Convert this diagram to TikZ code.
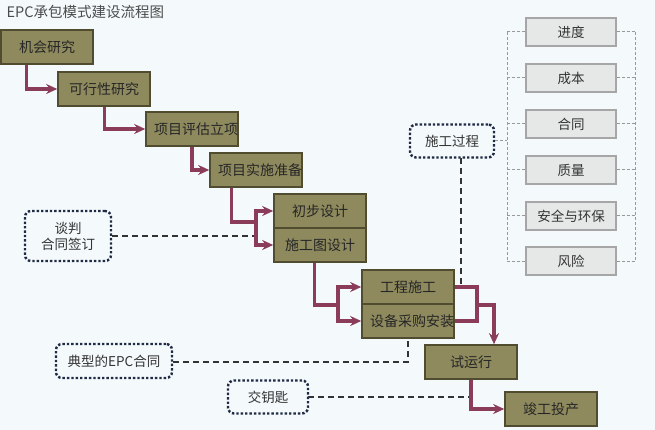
\documentclass[tikz,border=0pt]{standalone}
\usepackage{fontspec}
\newfontfamily\cjk{Noto Sans CJK SC}
\usetikzlibrary{arrows.meta}
\definecolor{olive}{HTML}{8E8A5E}
\definecolor{olivedk}{HTML}{4F4C30}
\definecolor{olivelt}{HTML}{B8B48A}
\definecolor{arr}{HTML}{8A3C58}
\definecolor{gbox}{HTML}{E6E8E8}
\definecolor{bg}{HTML}{F4F9FB}
\definecolor{dot}{HTML}{1F2A44}
\begin{document}
\begin{tikzpicture}[x=1pt,y=-1pt,
  ob/.style={draw=olivedk,line width=1.6pt,fill=olive,minimum width=92pt,minimum height=34pt,inner sep=1pt,align=center,text width=76pt,font=\cjk\fontsize{14}{15}\selectfont,text=black!85,
    append after command={[draw=olivelt,line width=1pt] (\tikzlastnode.north west) ++(2,2) -- ([xshift=-2pt,yshift=-2pt]\tikzlastnode.north east)}},
  gb/.style={draw=gray!70,line width=1.2pt,fill=gbox,minimum width=90pt,minimum height=28pt,font=\cjk\fontsize{13.5}{14}\selectfont,text=black!80},
  nb/.style={draw=dot,line width=2.4pt,dotted,rounded corners=6pt,fill=bg,align=center,font=\cjk\fontsize{13.5}{16}\selectfont,text=black!80},
  ar/.style={draw=arr,line width=3.2pt,-{Stealth[length=11pt,width=10pt]}},
  ln/.style={draw=arr,line width=3.2pt},
  dl/.style={draw=black!80,line width=2.2pt,dash pattern=on 6pt off 4pt},
  tl/.style={draw=gray!80,line width=1pt,dash pattern=on 3pt off 2pt}]
\fill[bg] (0,0) rectangle (655,430);
\useasboundingbox (0,0) rectangle (655,430);
\node[anchor=west,font=\cjk\fontsize{14.5}{15}\selectfont,text=black!70] (title) at (3,12) {EPC承包模式建设流程图};
% thin dashed brackets
\coordinate (bl1) at (507,32); \coordinate (bl6) at (507,261);
\coordinate (br1) at (635,32); \coordinate (br6) at (635,261);
\draw[tl] (bl1) -- (bl6);
\draw[tl] (br1) -- (br6);
% heavy dashed
\draw[dl] (461,158) coordinate (pd) -- (461,287) coordinate (pe);
\draw[dl] (112,236) coordinate (qd) -- (256,236);
\draw[dl] (173,362) coordinate (sd) -- (408,362) -- (408,338);
\draw[dl] (308,397) coordinate (td) -- (471,397);
% main boxes
\node[ob] (a) at (47,47) {机会研究};
\node[ob] (b) at (104,89) {可行性研究};
\node[ob] (c) at (192,129) {项目评估立项};
\node[ob] (d) at (256,170) {项目实施准备};
\node[ob] (e1) at (320,211) {初步设计};
\node[ob] (e2) at (320,245) {施工图设计};
\node[ob] (f1) at (408,287) {工程施工};
\node[ob] (f2) at (408,321) {设备采购安装};
\node[ob] (g) at (471,362) {试运行};
\node[ob] (h) at (551,409) {竣工投产};
% right gray boxes
\foreach \n/\t/\y in {r1/进度/32,r2/成本/78,r3/合同/124,r4/质量/170,r5/安全与环保/216,r6/风险/261}{
  \node[gb] (\n) at (571,\y) {\t};
  \draw[tl] (\n.west) -- (\n.west -| bl1);
  \draw[tl] (\n.east) -- (\n.east -| br1);}
% notes
\node[nb,minimum width=84pt,minimum height=33pt] (p) at (452,141) {施工过程};
\node[nb,minimum width=86pt,minimum height=50pt] (q) at (68,236) {谈判\\合同签订};
\node[nb,minimum width=116pt,minimum height=34pt] (s) at (114,361) {典型的EPC合同};
\node[nb,minimum width=80pt,minimum height=33pt] (t) at (268,397) {交钥匙};
\draw[tl] (p.east) -- (p.east -| bl1);
% arrows
\draw[ar] (a.south west) ++(26,0) |- (b.west);
\draw[ar] (b.south west) ++(47,0) |- (c.west);
\draw[ar] (c.south) |- (d.west);
\coordinate (k1) at (256,222);
\draw[ln] (d.south west) ++(22,0) |- (k1);
\draw[ar] (k1) |- (e1.west);
\draw[ar] (k1) |- (e2.west);
\coordinate (k2) at (338,305);
\draw[ln] (e2.south west) ++(41,0) |- (k2);
\draw[ar] (k2) |- (f1.west);
\draw[ar] (k2) |- (f2.west);
\coordinate (k3) at (477,305);
\draw[ln] (f1.east) -| (k3);
\draw[ln] (f2.east) -| (k3);
\coordinate (k4) at (494,305);
\draw[ar] (k3) -- (k4) -- (k4 |- g.north);
\draw[ar] (g.south) |- (h.west);
\end{tikzpicture}
\end{document}
